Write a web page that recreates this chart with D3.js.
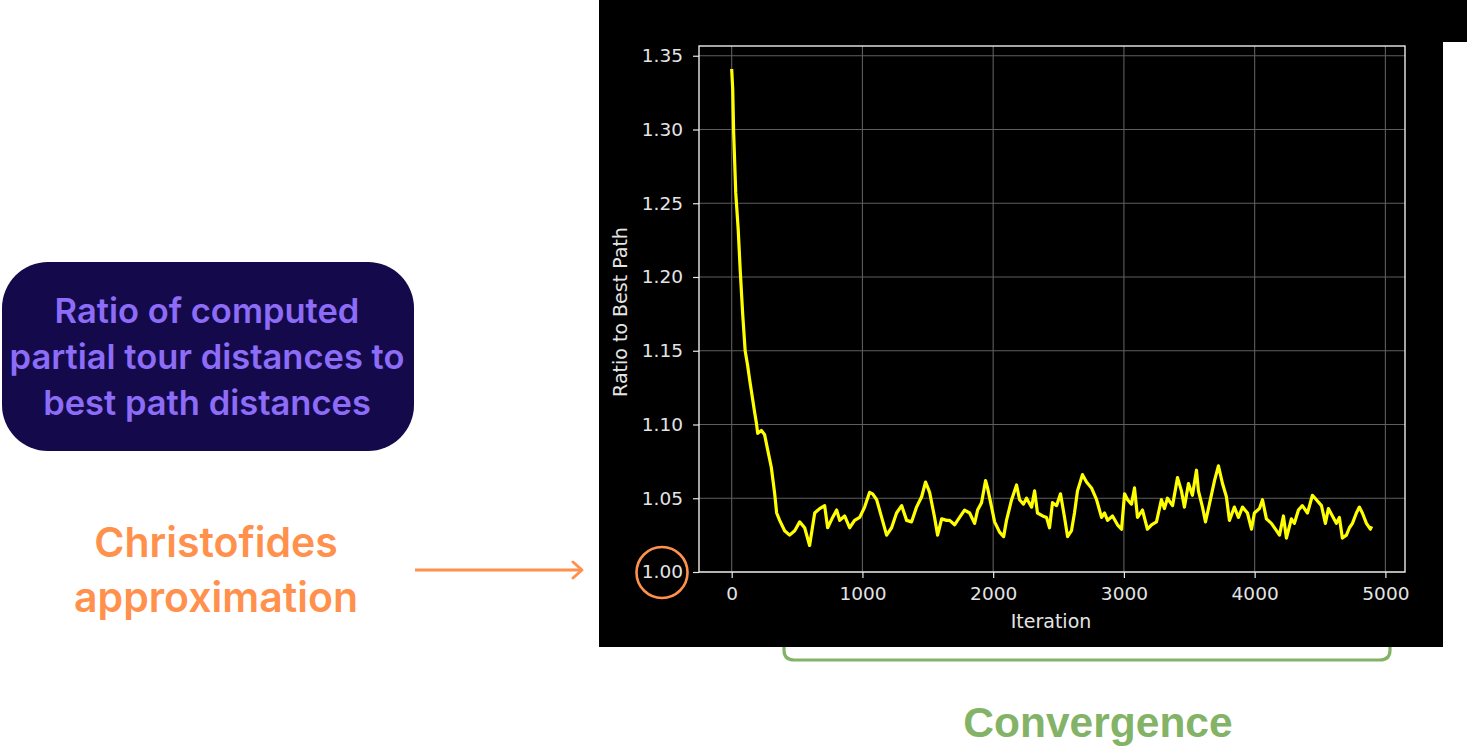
<!DOCTYPE html>
<html>
<head>
<meta charset="utf-8">
<script src="https://cdn.jsdelivr.net/npm/d3@7"></script>
<style>
  html, body { margin: 0; padding: 0; background: #ffffff; }
  svg { display: block; }
</style>
</head>
<body>
<svg id="chart" width="1467" height="756"></svg>
<script>
// ---- data ----
const iterations = [0, 8, 15, 31, 50, 65, 84, 103, 122, 138, 176, 189, 199, 227, 252, 275, 303, 329, 344, 367,
  405, 443, 482, 520, 558, 596, 635, 673, 711, 734, 772, 803, 826, 864, 902, 940, 979, 1017, 1055, 1078,
  1109, 1147, 1185, 1223, 1261, 1300, 1338, 1376, 1414, 1453, 1483, 1514, 1552, 1575, 1606, 1644, 1667, 1705,
  1743, 1781, 1820, 1858, 1881, 1911, 1942, 1957, 1988, 2011, 2049, 2080, 2102, 2141, 2179, 2202, 2232, 2255,
  2294, 2317, 2339, 2378, 2408, 2431, 2454, 2485, 2515, 2546, 2569, 2599, 2622, 2645, 2683, 2714, 2752, 2791,
  2829, 2852, 2875, 2913, 2951, 2982, 3005, 3028, 3058, 3081, 3104, 3142, 3180, 3211, 3249, 3287, 3310, 3333,
  3372, 3410, 3440, 3463, 3494, 3524, 3555, 3570, 3601, 3624, 3654, 3693, 3723, 3754, 3784, 3807, 3845, 3876,
  3907, 3945, 3976, 3998, 4037, 4060, 4090, 4128, 4167, 4190, 4220, 4243, 4281, 4304, 4335, 4365, 4404, 4442,
  4472, 4511, 4541, 4564, 4595, 4625, 4648, 4671, 4702, 4725, 4748, 4778, 4801, 4824, 4855, 4885, 4895];
const ratios = [1.341, 1.327, 1.298, 1.257, 1.232, 1.205, 1.175, 1.150, 1.140, 1.130, 1.108, 1.101, 1.094, 1.096, 1.093, 1.083, 1.071, 1.053, 1.040, 1.035,
  1.028, 1.025, 1.028, 1.034, 1.030, 1.018, 1.040, 1.043, 1.045, 1.030, 1.037, 1.042, 1.035, 1.038, 1.030, 1.035, 1.037, 1.044, 1.054, 1.053,
  1.049, 1.037, 1.025, 1.030, 1.040, 1.045, 1.035, 1.034, 1.044, 1.051, 1.061, 1.054, 1.037, 1.025, 1.036, 1.035, 1.035, 1.032,
  1.037, 1.042, 1.040, 1.033, 1.042, 1.047, 1.062, 1.057, 1.044, 1.034, 1.027, 1.024, 1.035, 1.049, 1.059, 1.049, 1.046, 1.050,
  1.044, 1.055, 1.040, 1.038, 1.037, 1.030, 1.047, 1.045, 1.053, 1.037, 1.024, 1.028, 1.040, 1.055, 1.066, 1.061, 1.057, 1.049,
  1.037, 1.040, 1.035, 1.038, 1.032, 1.029, 1.053, 1.049, 1.046, 1.057, 1.037, 1.042, 1.029, 1.032, 1.034, 1.049, 1.043, 1.050,
  1.045, 1.064, 1.055, 1.044, 1.060, 1.052, 1.069, 1.055, 1.044, 1.034, 1.046, 1.062, 1.072, 1.060, 1.051, 1.035, 1.044, 1.037,
  1.044, 1.040, 1.029, 1.040, 1.043, 1.049, 1.036, 1.033, 1.028, 1.025, 1.038, 1.023, 1.036, 1.033, 1.042, 1.045, 1.040, 1.052,
  1.049, 1.045, 1.033, 1.043, 1.038, 1.033, 1.037, 1.023, 1.025, 1.030, 1.033, 1.040, 1.044, 1.040, 1.033, 1.029, 1.031];
const xTicks = [0, 1000, 2000, 3000, 4000, 5000];
const yTicks = [1.00, 1.05, 1.10, 1.15, 1.20, 1.25, 1.30, 1.35];
const xLabel = "Iteration";
const yLabel = "Ratio to Best Path";
const boxLines = ["Ratio of computed", "partial tour distances to", "best path distances"];
const christoLines = ["Christofides", "approximation"];
const convergenceLabel = "Convergence";

// ---- drawing ----
const svg = d3.select("#chart");

// green bracket (drawn under the black figure)
svg.append("path")
  .attr("d", "M784,640 L784,650 Q784,660 794,660 L1380,660 Q1390,660 1390,650 L1390,640")
  .attr("fill", "none").attr("stroke", "#83b366").attr("stroke-width", 3.2);

// black figure background
svg.append("rect").attr("x", 599).attr("y", 0).attr("width", 844).attr("height", 647).attr("fill", "#000");
svg.append("rect").attr("x", 1443).attr("y", 0).attr("width", 24).attr("height", 42).attr("fill", "#000");

const plot = { left: 699, right: 1405, top: 46, bottom: 572 };
const x = d3.scaleLinear().domain([-250, 5150]).range([plot.left, plot.right]);
const y = d3.scaleLinear().domain([1.0, 1.3566]).range([plot.bottom, plot.top]);

const g = svg.append("g");

// grid
g.append("g").selectAll("line").data(xTicks).join("line")
  .attr("x1", d => x(d)).attr("x2", d => x(d))
  .attr("y1", plot.top).attr("y2", plot.bottom)
  .attr("stroke", "#5e5e5e").attr("stroke-width", 1.1);
g.append("g").selectAll("line").data(yTicks).join("line")
  .attr("x1", plot.left).attr("x2", plot.right)
  .attr("y1", d => y(d)).attr("y2", d => y(d))
  .attr("stroke", "#5e5e5e").attr("stroke-width", 1.1);

// line
const line = d3.line().x((d, i) => x(iterations[i])).y(d => y(d));
g.append("path").datum(ratios)
  .attr("d", line)
  .attr("fill", "none")
  .attr("stroke", "#ffff00")
  .attr("stroke-width", 3.2)
  .attr("stroke-linejoin", "round");

// axes
const fmtY = d3.format(".2f");
const xAxis = g.append("g").attr("transform", `translate(0,${plot.bottom})`)
  .call(d3.axisBottom(x).tickValues(xTicks).tickSize(6).tickPadding(9).tickFormat(d3.format("d")));
const yAxis = g.append("g").attr("transform", `translate(${plot.left},0)`)
  .call(d3.axisLeft(y).tickValues(yTicks).tickSize(6).tickPadding(10).tickFormat(fmtY));
[xAxis, yAxis].forEach(a => {
  a.select(".domain").remove();
  a.selectAll(".tick line").attr("stroke", "#e8e8e8").attr("stroke-width", 1.2);
  a.selectAll(".tick text").attr("fill", "#e4e4e4")
    .style("font-family", "'DejaVu Sans', sans-serif").style("font-size", "18.5px");
});

// spines
g.append("rect").attr("x", plot.left).attr("y", plot.top)
  .attr("width", plot.right - plot.left).attr("height", plot.bottom - plot.top)
  .attr("fill", "none").attr("stroke", "#ececec").attr("stroke-width", 1.4);

// axis labels
g.append("text").attr("x", 1051).attr("y", 628)
  .attr("text-anchor", "middle").attr("fill", "#e4e4e4")
  .style("font-family", "'DejaVu Sans', sans-serif").style("font-size", "19px")
  .text(xLabel);
g.append("text").attr("transform", `translate(627,312) rotate(-90)`)
  .attr("text-anchor", "middle").attr("fill", "#e4e4e4")
  .style("font-family", "'DejaVu Sans', sans-serif").style("font-size", "19px")
  .text(yLabel);

// ---- annotations ----
// navy rounded box
svg.append("rect").attr("x", 2).attr("y", 262).attr("width", 412).attr("height", 189)
  .attr("rx", 46).attr("ry", 46).attr("fill", "#140a4b");
svg.append("g").selectAll("text").data(boxLines).join("text")
  .attr("x", 207).attr("y", (d, i) => 323 + i * 46)
  .attr("text-anchor", "middle").attr("fill", "#8d6cf7")
  .style("font-family", "Inter, 'Open Sans', sans-serif").style("font-weight", 600).style("font-size", "34.5px")
  .text(d => d);

// Christofides label
svg.append("g").selectAll("text").data(christoLines).join("text")
  .attr("x", 216).attr("y", (d, i) => 557 + i * 55)
  .attr("text-anchor", "middle").attr("fill", "#ff914d")
  .style("font-family", "Inter, 'Open Sans', sans-serif").style("font-weight", 600).style("font-size", "41px")
  .text(d => d);

// arrow
svg.append("line").attr("x1", 415).attr("y1", 570).attr("x2", 581).attr("y2", 570)
  .attr("stroke", "#ff914d").attr("stroke-width", 3);
svg.append("path").attr("d", "M573,562 L582,570 L573,578")
  .attr("fill", "none").attr("stroke", "#ff914d").attr("stroke-width", 3)
  .attr("stroke-linecap", "round").attr("stroke-linejoin", "round");

// circle around 1.00
svg.append("circle").attr("cx", 662).attr("cy", y(1.0) + 0.5).attr("r", 25.5)
  .attr("fill", "none").attr("stroke", "#ff914d").attr("stroke-width", 2.6);

// Convergence label
svg.append("text").attr("x", 1098).attr("y", 737).attr("text-anchor", "middle")
  .attr("fill", "#83b366")
  .style("font-family", "'Liberation Sans', Arial, sans-serif").style("font-weight", 700).style("font-size", "42.5px")
  .text(convergenceLabel);
</script>
</body>
</html>
